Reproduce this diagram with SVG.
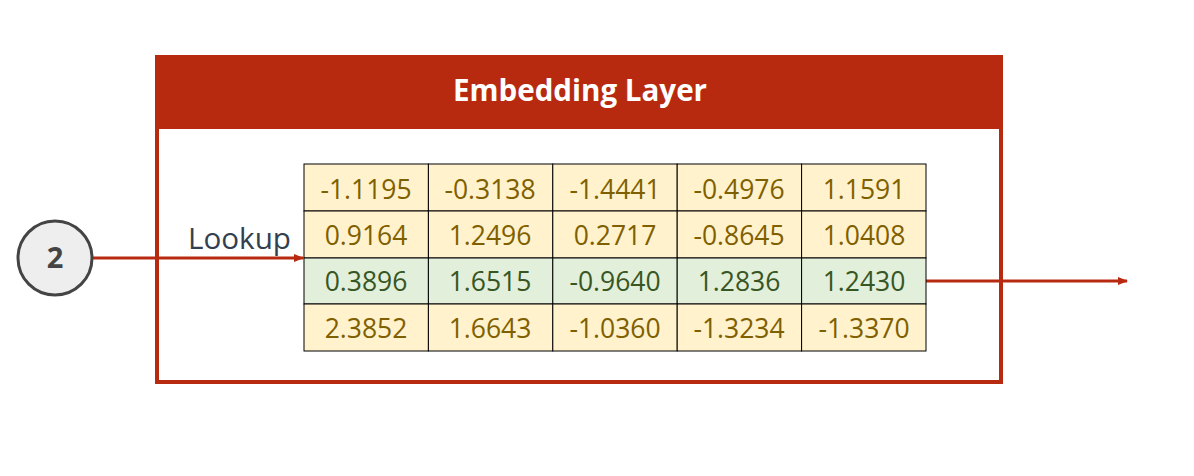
<svg xmlns="http://www.w3.org/2000/svg" width="1194" height="476" viewBox="0 0 1194 476">
<style>
.cell{stroke:#000;stroke-width:1}
.y{fill:#FFF2CC}
.g{fill:#E2EFDA}
.t{font-family:"Open Sans","Noto Sans",sans-serif;font-size:26.5px;text-anchor:middle}
.ty{fill:#7F6000}
.tg{fill:#375623}
.conn{stroke:#B72A10;stroke-width:3;fill:none}
</style>
<defs>
<marker id="ah" markerWidth="10" markerHeight="8" refX="9" refY="4" orient="auto" markerUnits="userSpaceOnUse">
<path d="M0,0 L10,4 L0,8 z" fill="#B72A10"/>
</marker>
</defs>
<rect width="1194" height="476" fill="#fff"/>
<g id="layer">
<rect x="157" y="57" width="844" height="325" fill="#fff" stroke="#B72A10" stroke-width="4"/>
<rect x="155" y="55" width="848" height="74" fill="#B72A10"/>
<text x="580" y="101" font-family="Open Sans, Noto Sans, sans-serif" font-size="30" font-weight="bold" fill="#fff" text-anchor="middle" textLength="254" lengthAdjust="spacingAndGlyphs">Embedding Layer</text>
</g>
<g id="connectors">
<line class="conn" x1="93" y1="258" x2="303" y2="258" marker-end="url(#ah)"/>
<line class="conn" x1="926" y1="281" x2="1127" y2="281" marker-end="url(#ah)"/>
</g>
<g id="input">
<circle cx="55" cy="258" r="37" fill="#EEEEEE" stroke="#444" stroke-width="3"/>
<text x="55" y="268" font-family="Open Sans, Noto Sans, sans-serif" font-size="29" font-weight="bold" fill="#444" text-anchor="middle">2</text>
</g>
<g id="lookup-label">
<text x="188" y="249" font-family="Open Sans, Noto Sans, sans-serif" font-size="30" fill="#333F4F" textLength="103" lengthAdjust="spacingAndGlyphs">Lookup</text>
</g>
<g id="table">
<rect class="cell y" x="304" y="164" width="124.4" height="47"/>
<rect class="cell y" x="428.4" y="164" width="124.4" height="47"/>
<rect class="cell y" x="552.8" y="164" width="124.4" height="47"/>
<rect class="cell y" x="677.2" y="164" width="124.4" height="47"/>
<rect class="cell y" x="801.6" y="164" width="124.4" height="47"/>
<rect class="cell y" x="304" y="211" width="124.4" height="47"/>
<rect class="cell y" x="428.4" y="211" width="124.4" height="47"/>
<rect class="cell y" x="552.8" y="211" width="124.4" height="47"/>
<rect class="cell y" x="677.2" y="211" width="124.4" height="47"/>
<rect class="cell y" x="801.6" y="211" width="124.4" height="47"/>
<rect class="cell g" x="304" y="258" width="124.4" height="46"/>
<rect class="cell g" x="428.4" y="258" width="124.4" height="46"/>
<rect class="cell g" x="552.8" y="258" width="124.4" height="46"/>
<rect class="cell g" x="677.2" y="258" width="124.4" height="46"/>
<rect class="cell g" x="801.6" y="258" width="124.4" height="46"/>
<rect class="cell y" x="304" y="304" width="124.4" height="47"/>
<rect class="cell y" x="428.4" y="304" width="124.4" height="47"/>
<rect class="cell y" x="552.8" y="304" width="124.4" height="47"/>
<rect class="cell y" x="677.2" y="304" width="124.4" height="47"/>
<rect class="cell y" x="801.6" y="304" width="124.4" height="47"/>
<text class="t ty" x="366" y="199">-1.1195</text>
<text class="t ty" x="490" y="199">-0.3138</text>
<text class="t ty" x="615" y="199">-1.4441</text>
<text class="t ty" x="739" y="199">-0.4976</text>
<text class="t ty" x="864" y="199">1.1591</text>
<text class="t ty" x="366" y="245">0.9164</text>
<text class="t ty" x="490" y="245">1.2496</text>
<text class="t ty" x="615" y="245">0.2717</text>
<text class="t ty" x="739" y="245">-0.8645</text>
<text class="t ty" x="864" y="245">1.0408</text>
<text class="t tg" x="366" y="291">0.3896</text>
<text class="t tg" x="490" y="291">1.6515</text>
<text class="t tg" x="615" y="291">-0.9640</text>
<text class="t tg" x="739" y="291">1.2836</text>
<text class="t tg" x="864" y="291">1.2430</text>
<text class="t ty" x="366" y="338">2.3852</text>
<text class="t ty" x="490" y="338">1.6643</text>
<text class="t ty" x="615" y="338">-1.0360</text>
<text class="t ty" x="739" y="338">-1.3234</text>
<text class="t ty" x="864" y="338">-1.3370</text>
</g>
</svg>
